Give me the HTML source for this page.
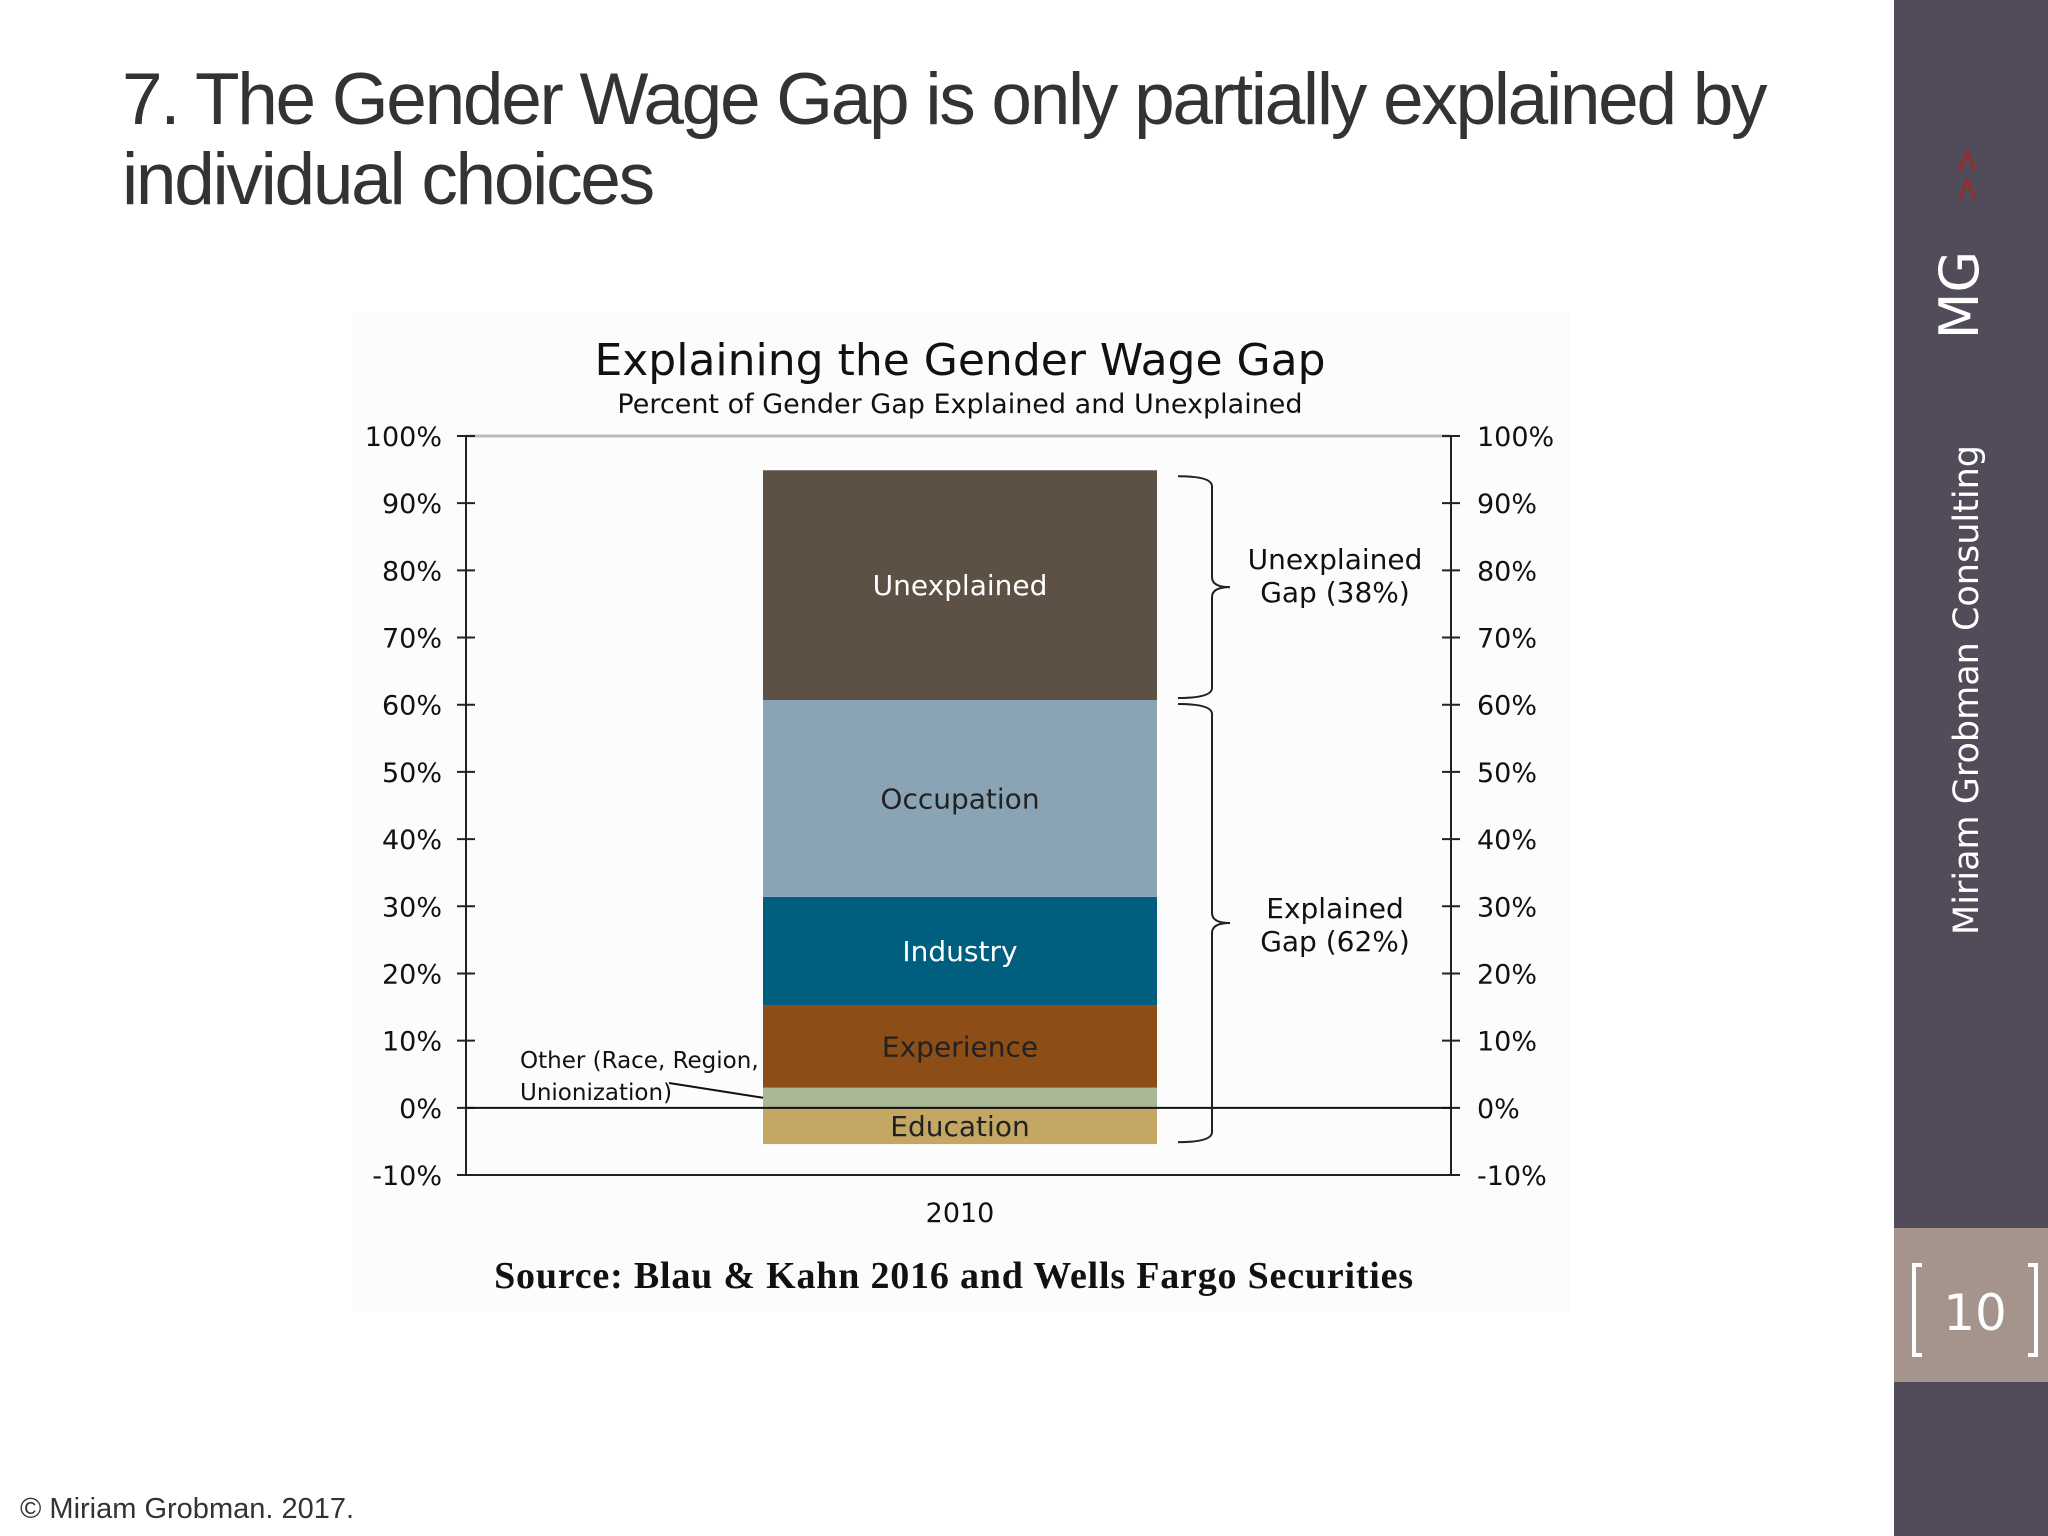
<!DOCTYPE html>
<html><head><meta charset="utf-8"><style>
html,body{margin:0;padding:0;background:#fff;}
#wrap{position:relative;width:2048px;height:1536px;overflow:hidden;background:#fff;font-family:"Liberation Sans",sans-serif;}
</style></head><body>
<div id="wrap">
<svg id="svg" width="2048" height="1536" xmlns="http://www.w3.org/2000/svg">
<rect x="352" y="312" width="1218" height="1000" fill="#fcfcfc"/>
<text x="122" y="124" font-size="73" fill="#333" letter-spacing="-2.3" font-family="Liberation Sans, sans-serif">7. The Gender Wage Gap is only partially explained by</text>
<text x="122" y="204" font-size="73" fill="#333" letter-spacing="-2.3" font-family="Liberation Sans, sans-serif">individual choices</text>
<text x="960" y="375" font-size="44" fill="#111" text-anchor="middle" font-family="DejaVu Sans, sans-serif">Explaining the Gender Wage Gap</text>
<text x="960" y="413" font-size="27" fill="#111" text-anchor="middle" font-family="DejaVu Sans, sans-serif">Percent of Gender Gap Explained and Unexplained</text>
<g id="plot"></g>
<text x="954" y="1288" font-size="38" font-weight="bold" fill="#111" text-anchor="middle" letter-spacing="0.8" font-family="Liberation Serif, serif">Source: Blau &amp; Kahn 2016 and Wells Fargo Securities</text>
<text x="20" y="1518" font-size="29" fill="#333" font-family="Liberation Sans, sans-serif">© Miriam Grobman. 2017.</text>
<rect x="1894" y="0" width="154" height="1536" fill="#514b5a"/>
<rect x="1894" y="1228" width="154" height="154" fill="#a4948b"/>
<text x="1975" y="1330" font-size="50" fill="#fff" text-anchor="middle" font-family="DejaVu Sans, sans-serif">10</text>
<path d="M1922,1265 h-8 v90 h8 M2028,1265 h8 v90 h-8" stroke="#fff" stroke-width="4" fill="none"/>
<text transform="translate(1978,295) rotate(-90)" font-size="54" fill="#fff" text-anchor="middle" font-family="DejaVu Sans, sans-serif">MG</text>
<text transform="translate(1978,175) rotate(-90)" font-size="34" fill="#9b2a2a" text-anchor="middle" font-family="DejaVu Sans, sans-serif">&gt;&gt;</text>
<text transform="translate(1978,690) rotate(-90)" font-size="35" fill="#fff" text-anchor="middle" font-family="DejaVu Sans, sans-serif">Miriam Grobman Consulting</text>
</svg>
</div>
<script>
const categories = ["Education","Other","Experience","Industry","Occupation","Unexplained"];
const values = [-5.4, 3.0, 12.3, 16.1, 29.3, 34.2];
const colors = ["#c5a764","#a9b796","#8c4e16","#005f7f","#8aa3b5","#5d5044"];
const labelColors = ["#222","#222","#222","#fff","#222","#fff"];
const showLabel = [true,false,true,true,true,true];
const ticks = [-10,0,10,20,30,40,50,60,70,80,90,100];
const tickLabels = ["-10%","0%","10%","20%","30%","40%","50%","60%","70%","80%","90%","100%"];
const NS="http://www.w3.org/2000/svg";
const g=document.getElementById('plot');
const X0=466,X1=1451,Y_TOP=436,Y_BOT=1175,VMIN=-10,VMAX=100;
const y=v=>Y_BOT-(v-VMIN)/(VMAX-VMIN)*(Y_BOT-Y_TOP);
function mk(t,a){const e=document.createElementNS(NS,t);for(const k in a)e.setAttribute(k,a[k]);g.appendChild(e);return e;}
let e=mk('line',{x1:X0,x2:X1,y1:y(100),y2:y(100),stroke:'#bbb','stroke-width':3});


e=mk('line',{x1:X0,x2:X0,y1:y(100),y2:y(-10),stroke:'#222','stroke-width':2});


e=mk('line',{x1:X1,x2:X1,y1:y(100),y2:y(-10),stroke:'#222','stroke-width':2});


e=mk('line',{x1:X0,x2:X1,y1:y(-10),y2:y(-10),stroke:'#222','stroke-width':2});


ticks.forEach((t,i)=>{
  let a=mk('line',{x1:X0-9,x2:X0+9,y1:y(t),y2:y(t),stroke:'#222','stroke-width':2});
  
  
  a=mk('line',{x1:X1-9,x2:X1+9,y1:y(t),y2:y(t),stroke:'#222','stroke-width':2});
  
  
  a=mk('text',{x:442,y:y(t)+10,'font-size':27,fill:'#111','text-anchor':'end','font-family':'DejaVu Sans, sans-serif'});
  a.textContent=tickLabels[i];
  
  
  a=mk('text',{x:1477,y:y(t)+10,'font-size':27,fill:'#111','font-family':'DejaVu Sans, sans-serif'});
  a.textContent=tickLabels[i];
  
  
});
const BX=763,BW=394;
let cum=0;
categories.forEach((c,i)=>{
  let v0,v1;
  if(values[i]<0){v0=values[i];v1=0;}else{v0=cum;v1=cum+values[i];cum=v1;}
  const r=mk('rect',{x:BX,y:y(v1),width:BW,height:y(v0)-y(v1),fill:colors[i]});
  
  
  if(showLabel[i]){
    const t=mk('text',{x:BX+BW/2,y:(y(v0)+y(v1))/2+10,'font-size':28,fill:labelColors[i],'text-anchor':'middle','font-family':'DejaVu Sans, sans-serif'});
    t.textContent=c;
    
    
  }
});
e=mk('line',{x1:X0,x2:X1,y1:y(0),y2:y(0),stroke:'#111','stroke-width':2});


function brace(top,bot,name){
  const mid=(top+bot)/2,xa=1178,xb=1212,xt=1230;
  const d=`M${xa},${top} Q${xb},${top} ${xb},${top+10} L${xb},${mid-10} Q${xb},${mid} ${xt},${mid} Q${xb},${mid} ${xb},${mid+10} L${xb},${bot-10} Q${xb},${bot} ${xa},${bot}`;
  const p=mk('path',{d:d,stroke:'#222','stroke-width':2,fill:'none'});
  
  
}
const totalTop=cum;
brace(y(totalTop)+6,y(totalTop-values[5])-2,'unexplained-brace');
brace(y(totalTop-values[5])+4,y(values[0])-2,'explained-brace');
function lbl(lines,yy,name){
  lines.forEach((s,k)=>{
    const t=mk('text',{x:1335,y:yy+k*33,'font-size':28,fill:'#111','text-anchor':'middle','font-family':'DejaVu Sans, sans-serif'});
    t.textContent=s;
    
    
  });
}
lbl(["Unexplained","Gap (38%)"],569,'unexplained-gap-label');
lbl(["Explained","Gap (62%)"],918,'explained-gap-label');
e=mk('text',{x:520,y:1068,'font-size':23,fill:'#111','font-family':'DejaVu Sans, sans-serif'});
e.textContent='Other (Race, Region,';


e=mk('text',{x:520,y:1100,'font-size':23,fill:'#111','font-family':'DejaVu Sans, sans-serif'});
e.textContent='Unionization)';


e=mk('line',{x1:669,y1:1083,x2:BX,y2:y(values[1]/2),stroke:'#111','stroke-width':2});


e=mk('text',{x:BX+BW/2,y:1222,'font-size':27,fill:'#111','text-anchor':'middle','font-family':'DejaVu Sans, sans-serif'});
e.textContent='2010';


</script>
</body></html>
